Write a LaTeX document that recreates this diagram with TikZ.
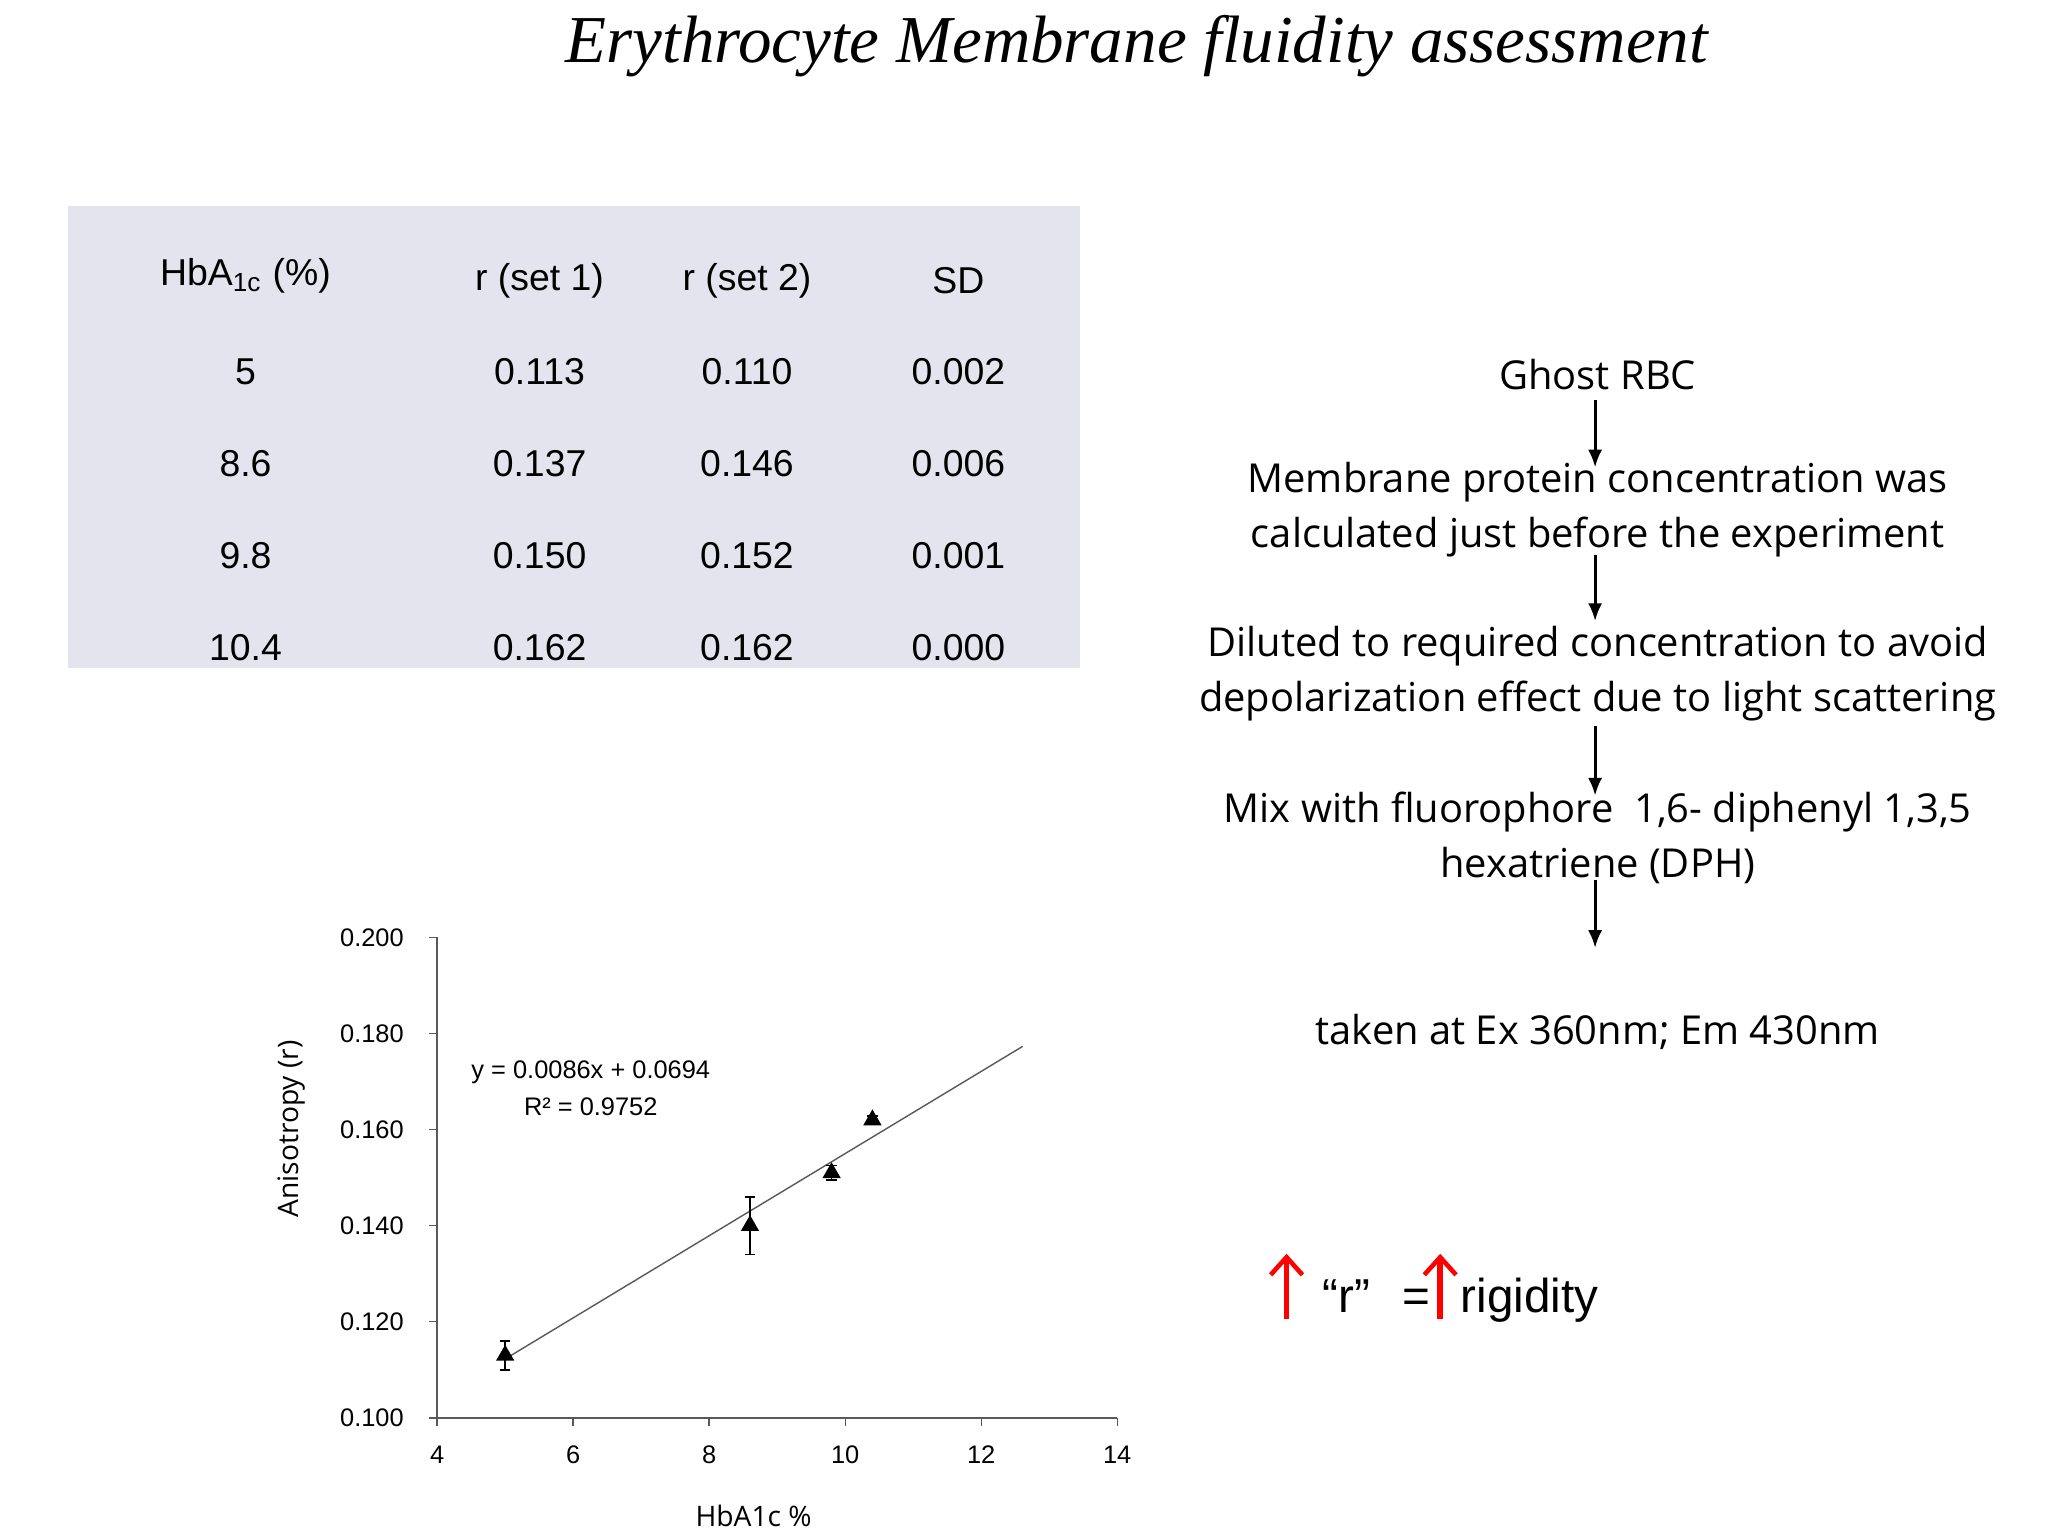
\documentclass[tikz,border=0pt]{standalone}
\usepackage{fontspec}
\setmainfont{Liberation Sans}
\newfontfamily\osans{Open Sans}
\newfontfamily\ttl{Liberation Serif}
\usetikzlibrary{arrows.meta,shapes.geometric}
\begin{document}
\begin{tikzpicture}[x=0.3722pt,y=-0.3722pt,
  tb/.style={font=\fontsize{10.6}{12}\selectfont},
  rt/.style={font=\osans\fontsize{11.3}{15.5}\selectfont,align=center},
  tk/.style={font=\fontsize{7.2}{8}\selectfont},
  dn/.style={line width=0.8pt,-{Latex[length=5pt,width=4pt]}},
  up/.style={red,line width=1.6pt,-{Straight Barb[length=5pt,width=9pt,line width=1.3pt]}},
  tri/.style={regular polygon,regular polygon sides=3,fill=black,inner sep=0pt,minimum size=6pt}]
\useasboundingbox (0,0) rectangle (1560,1170);
\node (title) at (866,35) {\ttl\itshape\fontsize{19}{22}\selectfont Erythrocyte Membrane fluidity assessment};
% table
\fill[fill={rgb,255:red,228;green,228;blue,238}] (52,157) rectangle (823,509);
\node[tb] (h1) at (187,210) {HbA\textsubscript{1c} (\%)};
\node[tb] (h2) at (411,214) {r (set 1)};
\node[tb] (h3) at (569,214) {r (set 2)};
\node[tb] (h4) at (730,214) {SD};
\foreach \y/\a/\b/\c/\d in {283/5/0.113/0.110/0.002, 353/8.6/0.137/0.146/0.006, 423/9.8/0.150/0.152/0.001, 493/10.4/0.162/0.162/0.000}{
 \node[tb] at (187,\y) {\a}; \node[tb] at (411,\y) {\b}; \node[tb] at (569,\y) {\c}; \node[tb] at (730,\y) {\d};}
% flow
\node[rt] (s1) at (1217,285) {Ghost RBC};
\node[rt] (s2) at (1217,388) {Membrane protein concentration was\\calculated just before the experiment};
\node[rt] (s3) at (1217,513) {Diluted to required concentration to avoid\\depolarization effect due to light scattering};
\node[rt] (s4) at (1217,638) {Mix with fluorophore\ \ 1,6- diphenyl 1,3,5\\hexatriene (DPH)};
\coordinate (e4) at (1215,722);
\node[rt] (s5) at (1217,786) {taken at Ex 360nm; Em 430nm};
\draw[dn] (1215,305) -- (1215,356);
\draw[dn] (1215,423) -- (1215,473);
\draw[dn] (1215,553) -- (1215,606);
\draw[dn] (1215,670) -- (e4);
% rigidity
\node[font=\fontsize{13.5}{16}\selectfont,anchor=base west,inner sep=0pt] (rq) at (1007,1000) {``r''};
\node[font=\fontsize{13.5}{16}\selectfont,anchor=base west,inner sep=0pt] (eqs) at (1068,1000) {=};
\node[font=\fontsize{13.5}{16}\selectfont,anchor=base west,inner sep=0pt] (rg) at (1112,1000) {rigidity};
\draw[up] (980,1005) -- (980,955);
\draw[up] (1097,1005) -- (1097,955);
% chart
\draw[gray!70!black] (333,714) -- (333,1080) -- (851,1080);
\foreach \i/\lab in {0/0.100,1/0.120,2/0.140,3/0.160,4/0.180,5/0.200}{\pgfmathsetmacro\yy{1080-\i*73.2}
 \draw[gray!70!black] (327,\yy) -- (333,\yy);
 \node[tk,anchor=east] at (317,\yy) {\lab};}
\foreach \v in {4,6,...,14}{\pgfmathsetmacro\xx{333+(\v-4)*51.8}
 \draw[gray!70!black] (\xx,1080) -- (\xx,1086);
 \node[tk] at (\xx,1108) {\v};}
\node[tk,rotate=90] (yl) at (222,860) {\osans\fontsize{8}{9}\selectfont Anisotropy (r)};
\node[tk] (xl) at (574,1155) {\osans\fontsize{8}{9}\selectfont HbA1c \%};
\draw[gray!70!black] (385,1035) -- (779,797);
\node[tk] (eq) at (450,817) {y = 0.0086x + 0.0694};
\node[tk] (r2) at (450,843) {R² = 0.9752};
\foreach \x/\y/\e in {5/0.113/0.003, 8.6/0.140/0.006, 9.8/0.151/0.0015, 10.4/0.162/0.0008}{
 \pgfmathsetmacro\px{333+(\x-4)*51.8}
 \pgfmathsetmacro\py{1080-(\y-0.1)*3660}
 \pgfmathsetmacro\ea{\py-\e*3660}
 \pgfmathsetmacro\eb{\py+\e*3660}
 \draw (\px,\ea) -- (\px,\eb) (\px-4,\ea) -- (\px+4,\ea) (\px-4,\eb) -- (\px+4,\eb);
 \node[tri] at (\px,\py) {};}
\end{tikzpicture}
\end{document}
